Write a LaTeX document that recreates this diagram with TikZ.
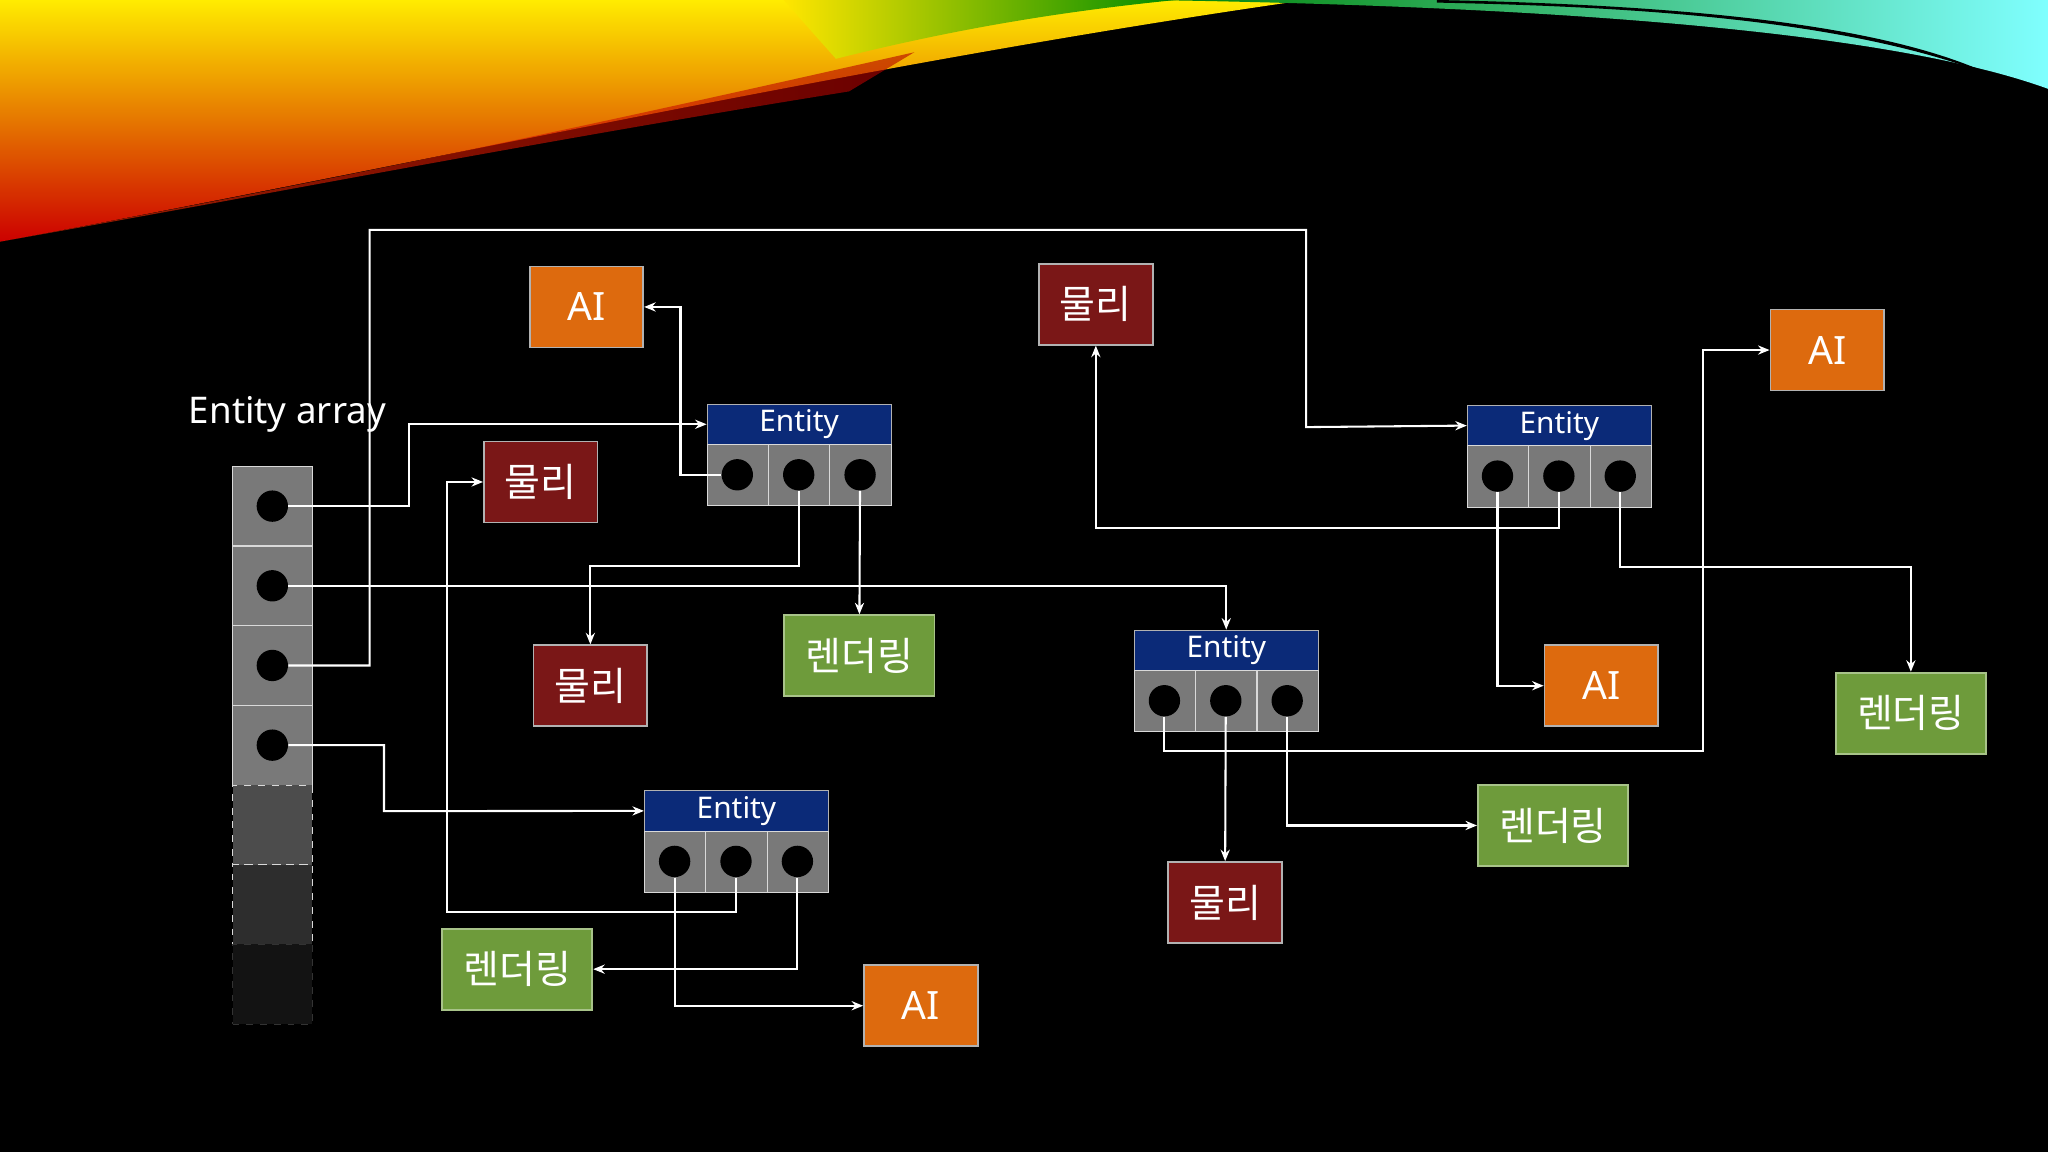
\documentclass[tikz,border=0pt]{standalone}
\usepackage{fontspec}
\setmainfont{Noto Sans}
\newfontfamily\cjk{Noto Sans CJK KR}
\usetikzlibrary{arrows.meta}
\definecolor{aic}{HTML}{DD6A0E}
\definecolor{phc}{HTML}{7A1717}
\definecolor{rdc}{HTML}{6E9B3B}
\definecolor{hdc}{HTML}{0B2A78}
\begin{document}
\begin{tikzpicture}[x=0.02cm,y=-0.02cm,
 comp/.style={draw=gray!60,line width=0.8pt,minimum height=1.24cm,text=white,font=\fontsize{17}{20}\selectfont,inner sep=0pt},
 ai/.style={comp,fill=aic,minimum width=1.74cm},
 ph/.style={comp,fill=phc,minimum width=1.74cm,font=\cjk\fontsize{17}{20}\selectfont},
 rd/.style={comp,fill=rdc,minimum width=2.3cm,draw=rdc!60!white,font=\cjk\fontsize{17}{20}\selectfont},
 ehead/.style={draw=gray!60,fill=hdc,minimum width=2.82cm,minimum height=0.62cm,text=white,font=\fontsize{13}{15}\selectfont,inner sep=0pt},
 ecell/.style={draw=gray!30,fill=gray!95!black,minimum width=0.94cm,minimum height=0.94cm,inner sep=0pt},
 acell/.style={draw=gray!30,fill=gray!95!black,minimum width=1.22cm,minimum height=1.22cm,inner sep=0pt},
 dot/.style={circle,fill=black,minimum size=0.48cm,inner sep=0pt},
 con/.style={white,line width=0.9pt,-{Stealth[length=5pt,width=4pt]}}]
\fill[black] (0,0) rectangle (1568,882);
\useasboundingbox (0,0) rectangle (1568,882);
% swoosh
\shade[top color=yellow!85!orange,middle color=orange!90!red,bottom color=red!80!black]
 (0,0) -- (1000,0) .. controls (650,50) and (300,130) .. (0,185) -- cycle;
\shade[left color=orange!40!red,right color=red!70!black,opacity=0.6]
 (0,185) .. controls (300,130) and (500,85) .. (700,40) -- (650,70) .. controls (400,110) and (200,150) .. (0,185) -- cycle;
\shade[left color=yellow!80!orange,right color=green!55!black]
 (600,0) -- (900,0) .. controls (800,10) and (720,25) .. (640,45) -- cycle;
\shade[left color=green!50!black,right color=cyan!50!white]
 (880,0) -- (1568,0) -- (1568,68) .. controls (1450,25) and (1200,5) .. (880,0) -- cycle;
\fill[black] (1100,0) .. controls (1300,4) and (1450,20) .. (1530,60) .. controls (1420,15) and (1250,5) .. (1100,2) -- cycle;
\newcommand\ent[3]{%
 \node[ehead,anchor=north west] (#1h) at (#2,#3) {Entity};
 \node[ecell,anchor=north west] (#1a) at (#2,#3+31) {};
 \node[ecell,anchor=north west] (#1b) at (#2+47,#3+31) {};
 \node[ecell,anchor=north west] (#1c) at (#2+94,#3+31) {};
 \node[dot] (#1x) at (#2+23.5,#3+54.5) {};
 \node[dot] (#1y) at (#2+70.5,#3+54.5) {};
 \node[dot] (#1z) at (#2+117.5,#3+54.5) {};}
% entity array
\node[text=white,font=\fontsize{16}{19}\selectfont] (lbl) at (220,317) {Entity array};
\foreach \i/\y in {1/387.5,2/448.5,3/509.5,4/570.5}{
 \node[acell] (c\i) at (208.5,\y) {};
 \node[dot] (a\i) at (208.5,\y) {};}
\node[acell,fill=gray!60!black,dashed] (c5) at (208.5,631.5) {};
\node[acell,fill=gray!35!black,dashed] (c6) at (208.5,692.5) {};
\node[acell,fill=gray!15!black,dashed,draw=gray!40!black] (c7) at (208.5,753.5) {};
% entities
\ent{E1}{541}{309}
\ent{E2}{1123}{310}
\ent{E3}{868}{482}
\ent{E4}{493}{605}
% components
\node[ai] (ai1) at (449,235) {AI};
\node[ph] (ph1) at (839,233) {물리};
\node[ai] (ai2) at (1399,268) {AI};
\node[ph] (ph2) at (414,369) {물리};
\node[ph] (ph3) at (452,525) {물리};
\node[rd] (rd1) at (658,502) {렌더링};
\node[ai] (ai3) at (1226,525) {AI};
\node[rd] (rd2) at (1463,546) {렌더링};
\node[rd] (rd3) at (1189,632) {렌더링};
\node[ph] (ph4) at (938,691) {물리};
\node[rd] (rd4) at (396,742) {렌더링};
\node[ai] (ai4) at (705,770) {AI};
% connectors
\draw[con] (a1) -- (313,387.5) |- (E1h.west);
\draw[con] (a2) -| (E3h.north);
\draw[con] (a3) -- (283,509.5) -- (283,176) -| (1000,327) -- (E2h.west);
\draw[con] (a4) -| (294,621) -- (E4h.west);
\draw[con] (E1x) -| (521,235) -- (ai1.east);
\draw[con] (E1y) |- (452,433) -- (ph3.north);
\draw[con] (E1z) -- (rd1.north);
\draw[con] (E2x) |- (ai3.west);
\draw[con] (E2y) |- (839,404) -- (ph1.south);
\draw[con] (E2z) |- (1463,434) -- (rd2.north);
\draw[con] (E3x) |- (1304,575) |- (ai2.west);
\draw[con] (E3y) -- (ph4.north);
\draw[con] (E3z) |- (rd3.west);
\draw[con] (E4x) |- (ai4.west);
\draw[con] (E4y) |- (342,698) |- (ph2.west);
\draw[con] (E4z) |- (rd4.east);
\end{tikzpicture}
\end{document}
